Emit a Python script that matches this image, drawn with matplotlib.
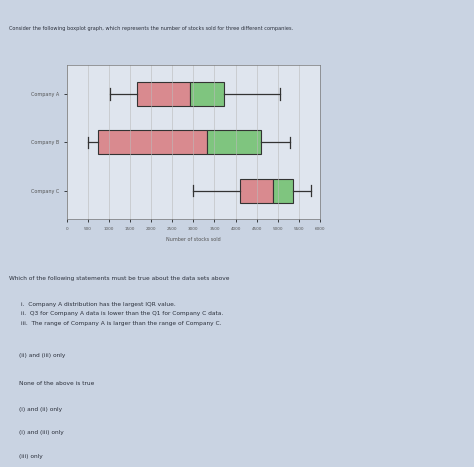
import matplotlib
matplotlib.use("Agg")
import matplotlib.pyplot as plt

companies = ["Company A", "Company B", "Company C"]
mins = [1020, 500, 2990]
q1s = [1660, 735, 4100]
medians = [2920, 3320, 4885]
q3s = [3720, 4600, 5360]
maxs = [5050, 5290, 5790]
ticks = list(range(0, 6001, 500))

bg = "#c9d3e2"
fig = plt.figure(figsize=(4.74, 4.67), dpi=100, facecolor=bg)
fig.text(0.02, 0.935, "Consider the following boxplot graph, which represents the number of stocks sold for three different companies.",
         fontsize=3.6, color="#2a2f3a")
ax = fig.add_axes([0.141, 0.53, 0.534, 0.33], facecolor="#dfe5ee")
ys = [2, 1, 0]
for y, lo, a, m, b, hi in zip(ys, mins, q1s, medians, q3s, maxs):
    ax.plot([lo, a], [y, y], color="#333", lw=0.9)
    ax.plot([b, hi], [y, y], color="#333", lw=0.9)
    ax.plot([lo, lo], [y - 0.12, y + 0.12], color="#333", lw=0.9)
    ax.plot([hi, hi], [y - 0.12, y + 0.12], color="#333", lw=0.9)
    ax.barh(y, m - a, left=a, height=0.5, color="#d98a8f", edgecolor="#333", lw=0.8)
    ax.barh(y, b - m, left=m, height=0.5, color="#7fc57f", edgecolor="#333", lw=0.8)
ax.set_yticks(ys)
ax.set_yticklabels(companies, fontsize=3.5, color="#555")
ax.set_xticks(ticks)
ax.set_xticklabels([str(t) for t in ticks], fontsize=3, color="#555")
ax.set_xlim(0, 6000)
ax.set_ylim(-0.6, 2.6)
ax.grid(axis="x", color="#bbb", lw=0.4)
ax.tick_params(length=2, width=0.5)
for s in ax.spines.values():
    s.set_color("#777"); s.set_linewidth(0.5)
ax.set_xlabel("Number of stocks sold", fontsize=3.5, color="#555")

lines = [
    (0.40, "Which of the following statements must be true about the data sets above", 4.2, 0.02),
    (0.345, "i.  Company A distribution has the largest IQR value.", 4.2, 0.045),
    (0.325, "ii.  Q3 for Company A data is lower than the Q1 for Company C data.", 4.2, 0.045),
    (0.305, "iii.  The range of Company A is larger than the range of Company C.", 4.2, 0.045),
    (0.235, "(ii) and (iii) only", 4.2, 0.04),
    (0.175, "None of the above is true", 4.2, 0.04),
    (0.12, "(i) and (ii) only", 4.2, 0.04),
    (0.07, "(i) and (iii) only", 4.2, 0.04),
    (0.02, "(iii) only", 4.2, 0.04),
]
for y, t, fs, x in lines:
    fig.text(x, y, t, fontsize=fs, color="#2a2f3a")
fig.savefig("out.png", dpi=100, facecolor=bg)
